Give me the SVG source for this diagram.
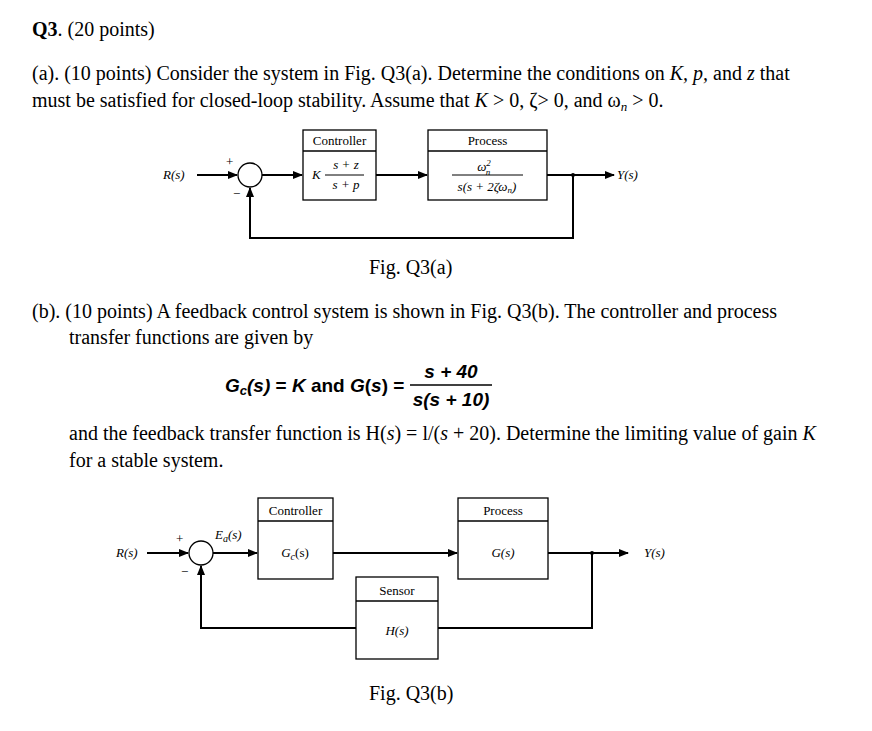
<svg xmlns="http://www.w3.org/2000/svg" width="872" height="731" viewBox="0 0 872 731">
<style>
.t{font-family:"Liberation Serif",serif;font-size:20px;fill:#000}
.d{font-family:"Liberation Serif",serif;font-size:13px;fill:#000}
.di{font-family:"Liberation Serif",serif;font-size:13px;font-style:italic;fill:#000}
.eq{font-family:"Liberation Sans",sans-serif;font-size:19px;font-weight:bold;fill:#000}
.b{fill:#fff;stroke:#000;stroke-width:1.3}
.l{fill:none;stroke:#000;stroke-width:2}
</style>
<defs><marker id="a" markerWidth="10" markerHeight="8" refX="9" refY="4" orient="auto" markerUnits="userSpaceOnUse"><path d="M0,0L10,4L0,8z" fill="#000"/></marker></defs>
<rect width="872" height="731" fill="#fff"/>
<text class="t" x="32" y="36"><tspan font-weight="bold">Q3</tspan>. (20 points)</text>
<text class="t" x="32" y="80">(a). (10 points) Consider the system in Fig. Q3(a). Determine the conditions on <tspan font-style="italic">K, p,</tspan> and <tspan font-style="italic">z</tspan> that</text>
<text class="t" x="32" y="107">must be satisfied for closed-loop stability. Assume that <tspan font-style="italic">K</tspan> &gt; 0, ζ&gt; 0, and ω<tspan font-style="italic" font-size="13" dy="4">n</tspan><tspan dy="-4"> &gt; 0.</tspan></text>
<text class="t" x="369" y="274">Fig. Q3(a)</text>
<text class="t" x="32" y="318">(b). (10 points) A feedback control system is shown in Fig. Q3(b). The controller and process</text>
<text class="t" x="69" y="344">transfer functions are given by</text>
<text class="eq" x="225" y="392"><tspan font-style="italic">G</tspan><tspan font-style="italic" font-size="13" dy="3">c</tspan><tspan dy="-3" font-style="italic">(s)</tspan> = <tspan font-style="italic">K</tspan> and <tspan font-style="italic">G</tspan>(<tspan font-style="italic">s</tspan>) =</text>
<text class="eq" x="451" y="378" text-anchor="middle" font-style="italic">s + 40</text>
<line x1="410" y1="385" x2="492" y2="385" stroke="#000" stroke-width="1.5"/>
<text class="eq" x="451" y="406" text-anchor="middle" font-style="italic">s(s + 10)</text>
<text class="t" x="69" y="440">and the feedback transfer function is H(<tspan font-style="italic">s</tspan>) = l/(<tspan font-style="italic">s</tspan> + 20). Determine the limiting value of gain <tspan font-style="italic">K</tspan></text>
<text class="t" x="69" y="467">for a stable system.</text>
<text class="t" x="369" y="700">Fig. Q3(b)</text>

<g id="conn-a">
<line class="l" x1="197" y1="175" x2="237" y2="175" marker-end="url(#a)"/>
<line class="l" x1="262" y1="175" x2="302" y2="175" marker-end="url(#a)"/>
<line class="l" x1="376" y1="175" x2="427" y2="175" marker-end="url(#a)"/>
<line class="l" x1="547" y1="175" x2="614" y2="175" marker-end="url(#a)"/>
<polyline class="l" points="573,175 573,238 250,238 250,188" marker-end="url(#a)"/>
<circle cx="573" cy="175" r="2" fill="#000"/>
</g>
<g id="sum-a"><circle cx="250" cy="175" r="12" class="b"/><text class="d" x="226" y="166">+</text><text class="d" x="233" y="198">−</text><text class="di" x="163" y="179">R(s)</text><text class="di" x="617" y="179">Y(s)</text></g>
<g id="ctrl-a"><rect class="b" x="303" y="130" width="73" height="70"/><line x1="303" y1="151" x2="376" y2="151" stroke="#000" stroke-width="1.3"/><text class="d" x="339.5" y="145" text-anchor="middle">Controller</text><text class="di" x="312" y="179">K</text><text class="di" x="346" y="169" text-anchor="middle">s + z</text><line x1="325" y1="175" x2="364" y2="175" stroke="#000"/><text class="di" x="346" y="189" text-anchor="middle">s + p</text></g>
<g id="proc-a"><rect class="b" x="428" y="130" width="119" height="70"/><line x1="428" y1="151" x2="547" y2="151" stroke="#000" stroke-width="1.3"/><text class="d" x="487.5" y="145" text-anchor="middle">Process</text><text class="di" x="484" y="171" text-anchor="middle">ω<tspan font-size="9" dy="-5">2</tspan><tspan font-size="9" dx="-5" dy="9">n</tspan></text><line x1="452" y1="175" x2="523" y2="175" stroke="#000"/><text class="di" x="487" y="191" text-anchor="middle">s(s + 2ζω<tspan font-size="9" dy="2">n</tspan><tspan dy="-2">)</tspan></text></g>

<g id="conn-b">
<line class="l" x1="147" y1="553" x2="188" y2="553" marker-end="url(#a)"/>
<line class="l" x1="213" y1="553" x2="257" y2="553" marker-end="url(#a)"/>
<line class="l" x1="333" y1="553" x2="457" y2="553" marker-end="url(#a)"/>
<line class="l" x1="548" y1="553" x2="628" y2="553" marker-end="url(#a)"/>
<polyline class="l" points="592,553 592,628 438,628"/>
<polyline class="l" points="356,628 201,628 201,566" marker-end="url(#a)"/>
<circle cx="592" cy="553" r="2" fill="#000"/>
</g>
<g id="sum-b"><circle cx="201" cy="553" r="12" class="b"/><text class="d" x="176" y="543">+</text><text class="d" x="181" y="576">−</text><text class="di" x="116" y="557">R(s)</text><text class="di" x="215" y="539">E<tspan font-size="10" dy="3">a</tspan><tspan dy="-3">(s)</tspan></text><text class="di" x="644" y="557">Y(s)</text></g>
<g id="ctrl-b"><rect class="b" x="258" y="498" width="75" height="81"/><line x1="258" y1="521" x2="333" y2="521" stroke="#000" stroke-width="1.3"/><text class="d" x="295.5" y="515" text-anchor="middle" font-size="14">Controller</text><text class="di" x="295" y="557" text-anchor="middle">G<tspan font-size="10" dy="3">c</tspan><tspan dy="-3" font-style="normal">(s)</tspan></text></g>
<g id="proc-b"><rect class="b" x="458" y="498" width="90" height="81"/><line x1="458" y1="521" x2="548" y2="521" stroke="#000" stroke-width="1.3"/><text class="d" x="503" y="515" text-anchor="middle" font-size="14">Process</text><text class="di" x="503" y="557" text-anchor="middle">G(s)</text></g>
<g id="sens-b"><rect class="b" x="356" y="577" width="82" height="82"/><line x1="356" y1="601" x2="438" y2="601" stroke="#000" stroke-width="1.3"/><text class="d" x="397" y="595" text-anchor="middle" font-size="14">Sensor</text><text class="di" x="397" y="635" text-anchor="middle">H(s)</text></g>
</svg>
